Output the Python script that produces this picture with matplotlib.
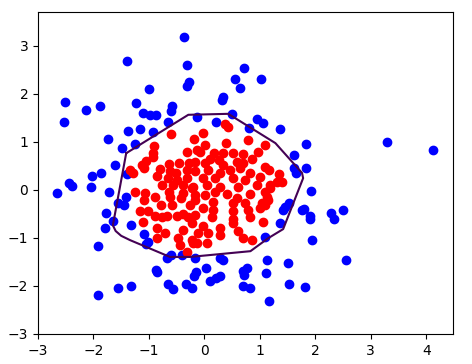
import numpy as np
import matplotlib
matplotlib.use('Agg')
import matplotlib.pyplot as plt

# outer class (blue) points
blue_x = [-1.39, -2.51, -2.14, -1.88, -2.53,
          -0.37, -0.31, -0.27, -0.31, -0.99, -1.23, -0.59, -0.61, -1.10, -0.98, -0.88,
          -0.66, -0.14, 0.21, -1.38, -1.16, -0.92,
          0.72, 0.55, 1.02, 0.64, 0.34, 0.31, 0.49, 0.94, 1.05, 0.81, 1.37,
          1.84, 3.29, 4.12, 1.84, 1.92, 1.79, 1.91, 1.91, 2.29, 2.34, 2.49, 1.94, 2.56, 1.82,
          -1.74, -1.49, -1.61, -1.86, -2.03, -1.40, -2.44, -2.38, -2.05, -2.66, -1.72,
          -1.42, -1.55, -1.45, -1.78, -1.65, -1.79, -1.26,
          1.62, 1.61, 1.65, 1.52, 1.46, 1.42, 1.76, 1.37,
          -1.33, -1.09, -1.02, -1.05, -0.68, -0.61, -0.41, -0.17, -0.87,
          1.10, 0.28, 0.34, 0.03, 0.77, 1.13,
          -1.91, -1.55, -1.92, -1.33,
          -0.86, -0.65, -0.57, -0.34, -0.23, -0.19, -0.15, 0.10, 0.21, 0.28, 0.69,
          0.72, 0.69, 0.83, 1.11, 1.17, 1.51, 1.53]
blue_y = [2.68, 1.83, 1.65, 1.74, 1.40,
          3.17, 2.59, 2.24, 2.15, 2.10, 1.81, 1.75, 1.63, 1.60, 1.56, 1.56,
          1.42, 1.51, 1.42, 1.22, 1.26, 1.20,
          2.54, 2.31, 2.31, 2.11, 1.92, 1.87, 1.57, 1.48, 1.38, 1.28, 1.26,
          0.95, 0.99, 0.83, 0.45, -0.03, -0.41, -0.55, -0.62, -0.48, -0.62, -0.43, -1.05, -1.46, -2.03,
          1.05, 0.86, 0.52, 0.35, 0.29, 0.33, 0.14, 0.08, 0.06, -0.07, -0.05,
          -0.15, -0.28, -0.32, -0.49, -0.65, -0.79, 0.95,
          0.72, 0.45, 0.34, -0.28, -0.37, -0.42, -0.42, -0.70,
          -0.74, -0.93, -1.08, -1.13, -1.43, -1.35, -1.36, -1.43, -1.67,
          -0.98, -1.43, -1.46, -1.62, -1.64, -1.46,
          -1.17, -2.05, -2.20, -2.00,
          -1.72, -1.97, -2.07, -1.97, -2.05, -1.80, -1.72, -1.90, -1.83, -1.79, -1.69,
          -1.78, -2.01, -2.05, -1.74, -2.32, -1.52, -1.96]

# inner class (red) points
red_x = [-0.61, -0.19, -0.91, -0.31, -0.13, -0.92, -0.93, -1.05, -1.13, -1.09, -0.63, -0.45,
         -0.27, -0.17, -1.29, -0.80, -0.62, -0.51, -0.32, -0.17, -0.85, -0.65, -0.49, -0.32,
         -0.77, -0.56, -0.39, -0.23, -1.25, -1.07, -0.63, -0.38, -0.17, -0.89, -0.43,
         -1.34, 0.37, 0.43,
         -0.02, 0.01, 0.39, 0.79, -0.08, 0.18, 0.33, 0.52, 0.69, 0.97, 0.10, 0.27, 0.58,
         0.86, 0.01, 0.34, 0.70, 1.10, 0.07, 0.28, 0.46, 0.64, 0.82, -0.02, 0.19, 0.52,
         0.73, 1.01, -0.20, 0.04, 0.28, 0.61, 0.95, 0.01, 0.19, 0.40, 0.82, 1.10, 0.58,
         1.10, 1.16, 1.34, 1.31, 1.40, 1.19, 1.19, 1.13, 1.14, 1.10, 1.04, 1.05,
         -0.62, -1.09, -0.79, -0.59, -0.26, -1.16, -1.01, -0.89, -0.77, -0.68, -0.50, -0.38,
         -0.29, -0.17, -1.10, -0.23, -0.38, -0.86, -0.71, -0.47, -0.23, -0.86, -0.20, -0.44,
         -0.32,
         -0.17, 0.16, 0.52, 0.73, -0.02, 0.16, 0.52, 0.79, 1.01, 0.13, 0.52, 0.82, -0.02,
         0.28, 0.52, -0.11, 0.07, 0.28, 0.61, 0.70, 0.86, -0.14, 0.04]
red_y = [1.16, 1.05, 0.90, 0.79, 0.83, 0.76, 0.68, 0.60, 0.51, 0.45, 0.54, 0.55,
         0.55, 0.58, 0.35, 0.43, 0.38, 0.34, 0.41, 0.38, 0.29, 0.24, 0.20, 0.24,
         0.10, 0.10, 0.10, 0.03, -0.04, -0.06, -0.04, -0.06, -0.11, -0.16, -0.18,
         0.41, 1.37, 1.30,
         1.19, 0.93, 0.98, 1.04, 0.79, 0.76, 0.76, 0.76, 0.74, 0.78, 0.63, 0.62, 0.58,
         0.63, 0.55, 0.51, 0.56, 0.48, 0.40, 0.34, 0.41, 0.45, 0.35, 0.24, 0.24, 0.24,
         0.20, 0.27, 0.06, 0.10, 0.06, 0.06, 0.10, -0.11, -0.04, -0.08, -0.08, -0.04, -0.18,
         0.93, 0.40, 0.33, 0.17, 0.17, 0.10, 0.03, -0.15, -0.21, -0.32, -0.28, -0.67,
         -0.15, -0.21, -0.32, -0.32, -0.32, -0.44, -0.44, -0.55, -0.56, -0.55, -0.55, -0.51,
         -0.56, -0.53, -0.67, -0.70, -0.84, -0.80, -0.91, -1.01, -1.05, -1.01, -1.12, -1.15,
         -1.29,
         -0.21, -0.25, -0.28, -0.28, -0.39, -0.42, -0.44, -0.42, -0.39, -0.56, -0.60, -0.56, -0.76,
         -0.80, -0.70, -0.91, -0.91, -0.94, -0.87, -1.01, -1.05, -1.12, -1.12]

# decision boundary
boundary_x = [-1.41, -0.29, 0.43, 1.28, 1.76, 1.78, 1.42, 1.15, 0.83, -0.26, -0.62,
              -1.34, -1.50, -1.60, -1.65, -1.41]
boundary_y = [0.76, 1.56, 1.58, 0.97, 0.35, 0.24, -0.82, -1.01, -1.28, -1.40, -1.40,
              -1.05, -0.96, -0.86, -0.74, 0.76]

fig = plt.figure(figsize=(4.72, 3.64), dpi=100)
ax = fig.add_axes([0.0805, 0.083, 0.879, 0.884])

ax.plot(boundary_x, boundary_y, color='#440154', linewidth=1.5)
ax.scatter(blue_x, blue_y, c='blue')
ax.scatter(red_x, red_y, c='red')

ax.set_xlim(-3.0, 4.48)
ax.set_ylim(-3.0, 3.7)
ax.set_xticks(np.arange(-3, 5))
ax.set_yticks(np.arange(-3, 4))

plt.savefig('out.png', dpi=100)
